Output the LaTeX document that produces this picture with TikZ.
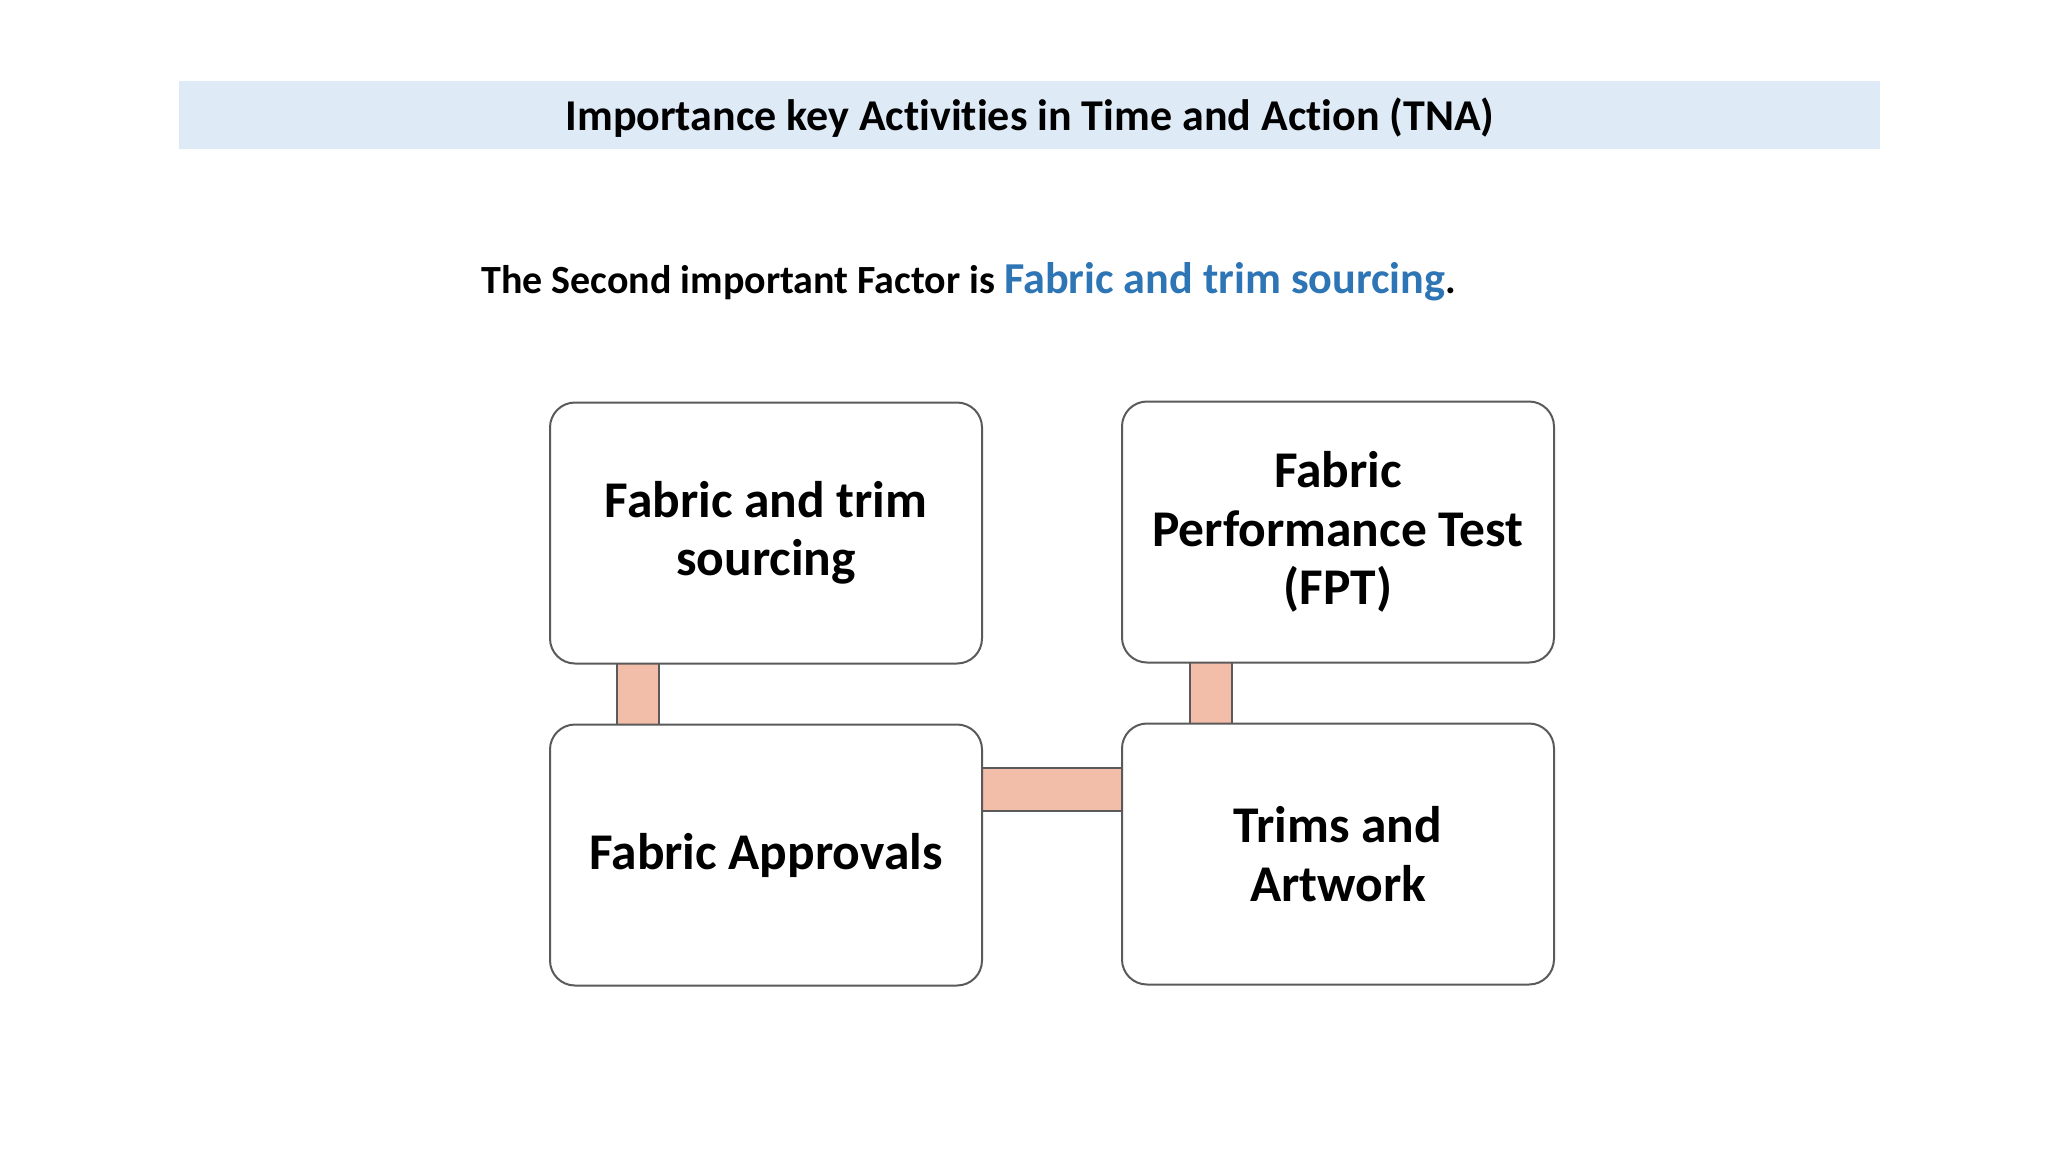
\documentclass[tikz,border=0pt]{standalone}
\usepackage{fontspec}
\setmainfont{Carlito}[Ligatures=NoCommon]
\usetikzlibrary{calc}
\definecolor{barblue}{RGB}{222,234,246}
\definecolor{txtblue}{RGB}{46,117,182}
\definecolor{connfill}{RGB}{242,190,170}
\definecolor{edge}{RGB}{90,90,90}
\begin{document}
\begin{tikzpicture}[x=1pt,y=-1pt,
  box/.style={draw=edge,line width=2pt,fill=white,rounded corners=25pt,
    minimum width=432pt,minimum height=261pt,align=center,
    font=\fontsize{51.5}{58.5}\selectfont\bfseries,inner sep=0pt},
  conn/.style={draw=edge,line width=2pt,fill=connfill}]
\useasboundingbox[fill=white] (0,0) rectangle (2048,1152);
\fill[barblue] (179,81) rectangle (1880,149);
\node[font=\fontsize{44}{52}\selectfont\bfseries] (title) at (1030,118) {Importance key Activities in Time and Action (TNA)};
\node[anchor=base west,inner sep=0pt,font=\fontsize{40}{48}\selectfont\bfseries] (sub) at (481,293) {The Second important Factor is {\fontsize{44.2}{52}\selectfont\color{txtblue}Fabric and trim sourcing}.};
% connectors (behind boxes)
\coordinate (c1a) at (617,650);
\coordinate (c1b) at (659,740);
\coordinate (c2a) at (1190,650);
\coordinate (c2b) at (1232,740);
\coordinate (c3a) at (970,768);
\coordinate (c3b) at (1135,811);
\draw[conn] (c1a) rectangle (c1b);
\draw[conn] (c2a) rectangle (c2b);
\draw[conn] (c3a) rectangle (c3b);
\node[box] (b1) at (766,533) {Fabric and trim\\sourcing};
\node[box] (b2) at (1338,532) {Fabric\\Performance Test\\(FPT)};
\node[box] (b3) at (766,855) {Fabric Approvals};
\node[box] (b4) at (1338,854) {Trims and\\Artwork};
\end{tikzpicture}
\end{document}
